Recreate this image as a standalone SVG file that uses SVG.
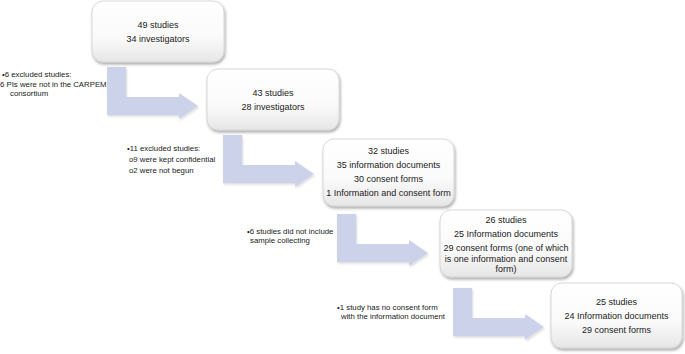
<svg xmlns="http://www.w3.org/2000/svg" width="685" height="354" viewBox="0 0 685 354">
<defs>
<linearGradient id="bg" x1="0" y1="0" x2="0" y2="1">
<stop offset="0" stop-color="#ffffff"/>
<stop offset="0.6" stop-color="#fafafa"/>
<stop offset="1" stop-color="#e6e6e6"/>
</linearGradient>
<filter id="sh" x="-10%" y="-10%" width="125%" height="130%">
<feDropShadow dx="1" dy="2" stdDeviation="1.5" flood-color="#000" flood-opacity="0.35"/>
</filter>
<filter id="ash" x="-10%" y="-10%" width="125%" height="130%">
<feDropShadow dx="1" dy="1.5" stdDeviation="1" flood-color="#000" flood-opacity="0.15"/>
</filter>
<path id="arr" d="M0,0 h19 v30 h53 v-4 l19,13 l-19,13 v-4 h-72 z"/>
</defs>
<style>
.box{fill:url(#bg);stroke:#cfcfcf;stroke-width:0.8;filter:url(#sh)}
.t{font-family:"Liberation Sans",Arial,sans-serif;font-size:9px;fill:#1a1a1a;text-anchor:middle}
.s{font-family:"Liberation Sans",Arial,sans-serif;font-size:7.8px;fill:#1a1a1a}
.a{fill:#ccd2e9;filter:url(#ash)}
</style>
<rect width="685" height="354" fill="#ffffff"/>
<g id="connectors">
<use href="#arr" class="a" x="107" y="67"/>
<use href="#arr" class="a" x="223" y="135"/>
<use href="#arr" class="a" x="337" y="214"/>
<use href="#arr" class="a" x="453" y="288"/>
</g>
<g id="box1">
<rect class="box" x="92" y="1" width="132" height="61" rx="11"/>
<text class="t" x="158" y="28">49 studies</text>
<text class="t" x="158" y="42">34 investigators</text>
</g>
<g id="box2">
<rect class="box" x="207" y="69" width="132" height="61" rx="11"/>
<text class="t" x="273" y="96">43 studies</text>
<text class="t" x="273" y="110">28 investigators</text>
</g>
<g id="box3">
<rect class="box" x="323" y="139" width="131" height="67" rx="11"/>
<text class="t" x="388.5" y="154">32 studies</text>
<text class="t" x="388.5" y="168">35 information documents</text>
<text class="t" x="388.5" y="182">30 consent forms</text>
<text class="t" x="388.5" y="196">1 Information and consent form</text>
</g>
<g id="box4">
<rect class="box" x="440" y="210" width="132" height="67" rx="11"/>
<text class="t" x="506" y="223">26 studies</text>
<text class="t" x="506" y="237">25 Information documents</text>
<text class="t" x="506" y="251">29 consent forms (one of which</text>
<text class="t" x="506" y="261.5">is one information and consent</text>
<text class="t" x="506" y="272">form)</text>
</g>
<g id="box5">
<rect class="box" x="551" y="283" width="131" height="65" rx="11"/>
<text class="t" x="616.5" y="305">25 studies</text>
<text class="t" x="616.5" y="319">24 Information documents</text>
<text class="t" x="616.5" y="333">29 consent forms</text>
</g>
<g id="note1">
<text class="s" x="2" y="77">•6 excluded studies:</text>
<text class="s" x="0" y="86.5">6 PIs were not in the CARPEM</text>
<text class="s" x="10" y="95.5">consortium</text>
</g>
<g id="note2">
<text class="s" x="127" y="151">•11 excluded studies:</text>
<text class="s" x="129" y="162">o9 were kept confidential</text>
<text class="s" x="129" y="173">o2 were not begun</text>
</g>
<g id="note3">
<text class="s" x="247" y="234">•6 studies did not include</text>
<text class="s" x="250" y="243">sample collecting</text>
</g>
<g id="note4">
<text class="s" x="337" y="310">•1 study has no consent form</text>
<text class="s" x="341" y="318.5">with the information document</text>
</g>
</svg>
